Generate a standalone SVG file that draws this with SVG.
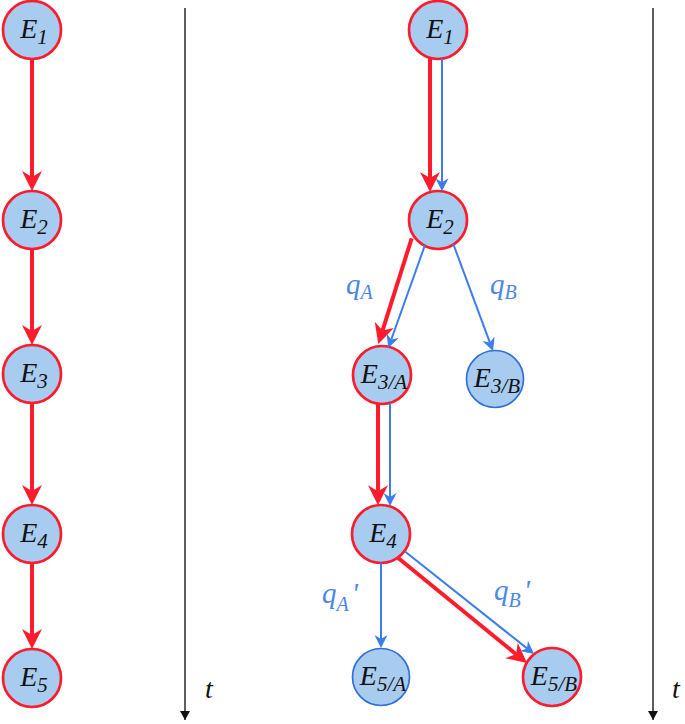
<svg xmlns="http://www.w3.org/2000/svg" width="685" height="724" viewBox="0 0 685 724">
<style>
.nr{fill:#a8cbf0;stroke:#fe1c2c;stroke-width:2.7}
.nb{fill:#a8cbf0;stroke:#2f6fd8;stroke-width:1.7}
.t{font-family:"Liberation Serif","Times New Roman",serif;font-style:italic;font-size:28px;fill:#111}
.s{font-size:21px}
.q{font-family:"Liberation Serif","Times New Roman",serif;font-style:italic;font-size:29px;fill:#4a86e8}
.qs{font-size:20px}
.r{stroke:#fe1c2c;stroke-width:4;fill:none}
.b{stroke:#3b7ded;stroke-width:2;fill:none}
.ax{stroke:#1a1a1a;stroke-width:1.4;fill:none}
</style>
<defs>
<marker id="ar" markerUnits="userSpaceOnUse" viewBox="-7 -11 22 22" markerWidth="22" markerHeight="22" refX="0" refY="0" orient="auto">
<path d="M14,0 L-6,-10 L0,0 L-6,10 Z" fill="#fe1c2c"/>
</marker>
<marker id="ab" markerUnits="userSpaceOnUse" viewBox="-5 -8 15 16" markerWidth="15" markerHeight="16" refX="0" refY="0" orient="auto">
<path d="M9,0 L-4,-6.5 L0,0 L-4,6.5 Z" fill="#3b7ded"/>
</marker>
<marker id="ak" markerUnits="userSpaceOnUse" viewBox="-10 -6 11 12" markerWidth="11" markerHeight="12" refX="0" refY="0" orient="auto">
<path d="M0,0 L-9,-5 L-9,5 Z" fill="#111"/>
</marker>
</defs>

<g id="axes">
<line class="ax" x1="185" y1="8" x2="185" y2="720" marker-end="url(#ak)"/>
<line class="ax" x1="653" y1="8" x2="653" y2="720" marker-end="url(#ak)"/>
<text class="t" x="205" y="698">t</text>
<text class="t" x="672" y="698">t</text>
</g>

<g id="L_E1"><circle class="nr" cx="32" cy="30" r="29"/><text class="t" x="34" y="38" text-anchor="middle">E<tspan class="s" dy="6">1</tspan></text></g>
<g id="L_E2"><circle class="nr" cx="32" cy="220" r="29"/><text class="t" x="34" y="228" text-anchor="middle">E<tspan class="s" dy="6">2</tspan></text></g>
<g id="L_E3"><circle class="nr" cx="32" cy="374" r="29"/><text class="t" x="34" y="382" text-anchor="middle">E<tspan class="s" dy="6">3</tspan></text></g>
<g id="L_E4"><circle class="nr" cx="32" cy="534" r="29"/><text class="t" x="34" y="542" text-anchor="middle">E<tspan class="s" dy="6">4</tspan></text></g>
<g id="L_E5"><circle class="nr" cx="32" cy="678" r="29"/><text class="t" x="34" y="686" text-anchor="middle">E<tspan class="s" dy="6">5</tspan></text></g>

<g id="R_E1"><circle class="nr" cx="438" cy="30" r="29"/><text class="t" x="440" y="38" text-anchor="middle">E<tspan class="s" dy="6">1</tspan></text></g>
<g id="R_E2"><circle class="nr" cx="438" cy="220" r="29"/><text class="t" x="440" y="228" text-anchor="middle">E<tspan class="s" dy="6">2</tspan></text></g>
<g id="R_E3A"><circle class="nr" cx="382" cy="375" r="29"/><text class="t" x="384" y="383" text-anchor="middle">E<tspan class="s" dy="6">3/A</tspan></text></g>
<g id="R_E3B"><circle class="nb" cx="495" cy="379" r="28.5"/><text class="t" x="497" y="387" text-anchor="middle">E<tspan class="s" dy="6">3/B</tspan></text></g>
<g id="R_E4"><circle class="nr" cx="381" cy="534" r="29"/><text class="t" x="383" y="542" text-anchor="middle">E<tspan class="s" dy="6">4</tspan></text></g>
<g id="R_E5A"><circle class="nb" cx="381" cy="677" r="28.5"/><text class="t" x="383" y="685" text-anchor="middle">E<tspan class="s" dy="6">5/A</tspan></text></g>
<g id="R_E5B"><circle class="nr" cx="552" cy="677" r="29"/><text class="t" x="554" y="685" text-anchor="middle">E<tspan class="s" dy="6">5/B</tspan></text></g>

<g id="connectors">
<line class="r" x1="32" y1="59" x2="32" y2="177" marker-end="url(#ar)"/>
<line class="r" x1="32" y1="249" x2="32" y2="331" marker-end="url(#ar)"/>
<line class="r" x1="32" y1="403" x2="32" y2="491" marker-end="url(#ar)"/>
<line class="r" x1="32" y1="563" x2="32" y2="635" marker-end="url(#ar)"/>

<line class="r" x1="430" y1="58" x2="430" y2="178" marker-end="url(#ar)"/>
<line class="b" x1="442" y1="58.7" x2="442" y2="182.3" marker-end="url(#ab)"/>

<line class="r" x1="411.7" y1="238.3" x2="382.5" y2="330.6" marker-end="url(#ar)"/>
<line class="b" x1="425" y1="245" x2="391.3" y2="339.5" marker-end="url(#ab)"/>
<line class="b" x1="453.3" y1="244" x2="489.9" y2="342.6" marker-end="url(#ab)"/>

<line class="r" x1="378" y1="403.7" x2="378" y2="491.3" marker-end="url(#ar)"/>
<line class="b" x1="390" y1="402.9" x2="390" y2="497" marker-end="url(#ab)"/>

<line class="b" x1="381" y1="563" x2="381" y2="639" marker-end="url(#ab)"/>
<line class="r" x1="397" y1="557" x2="516.1" y2="654.2" marker-end="url(#ar)"/>
<line class="b" x1="405" y1="551.5" x2="527" y2="648.4" marker-end="url(#ab)"/>
</g>

<g id="labels">
<text class="q" x="346" y="294">q<tspan class="qs" dy="5">A</tspan></text>
<text class="q" x="490" y="294">q<tspan class="qs" dy="5">B</tspan></text>
<text class="q" x="322" y="603">q<tspan class="qs" dy="8">A</tspan><tspan dx="3" dy="-8">'</tspan></text>
<text class="q" x="494" y="600">q<tspan class="qs" dy="7">B</tspan><tspan dx="3" dy="-7">'</tspan></text>
</g>
</svg>
